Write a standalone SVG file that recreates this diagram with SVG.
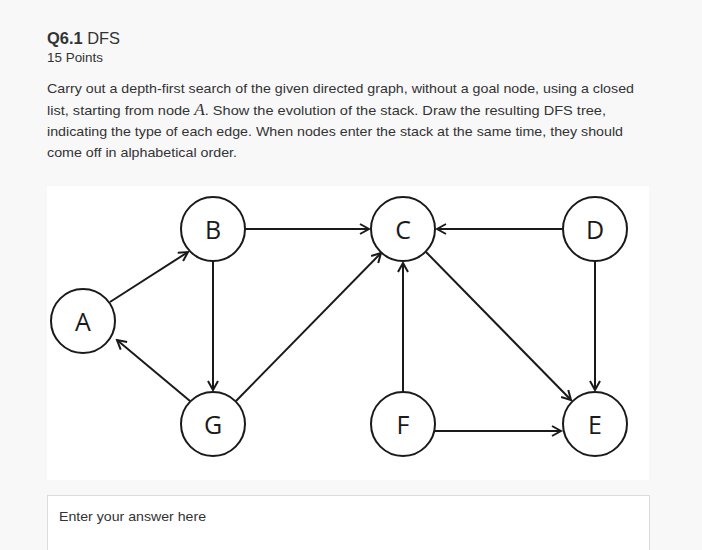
<svg xmlns="http://www.w3.org/2000/svg" width="702" height="550" viewBox="0 0 702 550">
<style>
.n circle{fill:#fff;stroke:#1a1a1a;stroke-width:2}
.n text{font-family:"Open Sans","DejaVu Sans",sans-serif;font-size:25px;fill:#1a1a1a;text-anchor:middle;dominant-baseline:central}
.e line{stroke:#1a1a1a;stroke-width:2;marker-end:url(#ar)}
.t{font-family:"Liberation Sans",Arial,sans-serif;fill:#333}
</style>
<defs><marker id="ar" markerWidth="12" markerHeight="12" refX="10" refY="6" orient="auto" markerUnits="userSpaceOnUse"><polyline points="1,1 10,6 1,11" fill="none" stroke="#1a1a1a" stroke-width="2"/></marker></defs>
<rect width="702" height="550" fill="#f8f8f9"/>
<text class="t" x="47" y="44" font-size="17" fill="#222" textLength="73" lengthAdjust="spacingAndGlyphs"><tspan font-weight="bold">Q6.1</tspan> DFS</text>
<text class="t" x="47" y="62" font-size="13" fill="#555" textLength="56" lengthAdjust="spacingAndGlyphs">15 Points</text>
<g class="t" font-size="13.5" fill="#3a3a3a">
<text x="47" y="93" textLength="587" lengthAdjust="spacingAndGlyphs">Carry out a depth-first search of the given directed graph, without a goal node, using a closed</text>
<text x="47" y="115" textLength="559" lengthAdjust="spacingAndGlyphs">list, starting from node <tspan font-family="Liberation Serif,serif" font-style="italic" font-size="16">A</tspan>. Show the evolution of the stack. Draw the resulting DFS tree,</text>
<text x="47" y="136" textLength="576" lengthAdjust="spacingAndGlyphs">indicating the type of each edge. When nodes enter the stack at the same time, they should</text>
<text x="47" y="157" textLength="190" lengthAdjust="spacingAndGlyphs">come off in alphabetical order.</text>
</g>
<rect x="47" y="186" width="602" height="294" fill="#fff"/>
<rect x="47.5" y="495.5" width="602" height="60" fill="#fff" stroke="#dcdcdc"/>
<text class="t" x="59" y="521" font-size="13.5" fill="#777" textLength="147" lengthAdjust="spacingAndGlyphs">Enter your answer here</text>
<g class="e">
<line x1="110" y1="302" x2="188" y2="252"/>
<line x1="245" y1="229" x2="369" y2="229"/>
<line x1="563" y1="229" x2="437" y2="229"/>
<line x1="213" y1="261" x2="213" y2="390"/>
<line x1="190" y1="401" x2="117" y2="340"/>
<line x1="236" y1="401" x2="381" y2="253"/>
<line x1="403" y1="392" x2="403" y2="263"/>
<line x1="426" y1="252" x2="571" y2="400"/>
<line x1="595" y1="261" x2="595" y2="390"/>
<line x1="435" y1="431" x2="561" y2="431"/>
</g>
<g id="A" class="n"><circle cx="83" cy="321" r="32"/><text x="83" y="321">A</text></g>
<g id="B" class="n"><circle cx="213" cy="229" r="32"/><text x="213" y="229">B</text></g>
<g id="C" class="n"><circle cx="403" cy="229" r="32"/><text x="403" y="229">C</text></g>
<g id="D" class="n"><circle cx="595" cy="229" r="32"/><text x="595" y="229">D</text></g>
<g id="G" class="n"><circle cx="213" cy="424" r="32"/><text x="213" y="424">G</text></g>
<g id="F" class="n"><circle cx="403" cy="424" r="32"/><text x="403" y="424">F</text></g>
<g id="E" class="n"><circle cx="595" cy="424" r="32"/><text x="595" y="424">E</text></g>
</svg>
